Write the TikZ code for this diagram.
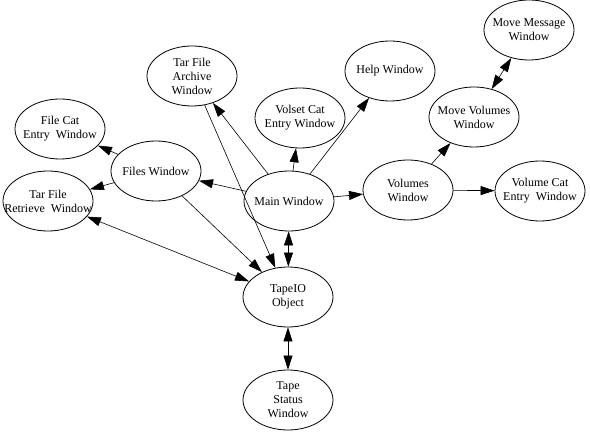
\documentclass[tikz,border=0pt]{standalone}
\usepackage{fontspec}
\setmainfont{Liberation Serif}
\usepackage{tikz}
\usetikzlibrary{shapes.geometric}
\usetikzlibrary{arrows.meta}
\tikzset{
    win/.style={draw, ellipse, line width=0.8pt, minimum width=90pt, minimum height=60pt,
        inner ysep=0pt, inner xsep=-20pt, align=center, font=\fontsize{12}{14}\selectfont},
    link/.style={line width=0.6pt, -{Triangle[length=14pt,width=9pt]}},
    both/.style={line width=0.6pt, {Triangle[length=14pt,width=9pt]}-{Triangle[length=14pt,width=9pt]}},
}

\begin{document}
\begin{tikzpicture}[x=1pt,y=1pt]
\useasboundingbox (0,0) rectangle (590,440);
\node[win] (archive) at (192,364) {Tar File\\Archive\\Window};
\node[win] (filecat) at (60,311) {File Cat\\Entry~~Window};
\node[win] (files) at (156,269) {Files Window};
\node[win] (retrieve) at (48,239) {Tar File\\Retrieve~~Window};
\node[win] (main) at (289,239) {Main Window};
\node[win] (volset) at (300,322) {Volset Cat\\Entry Window};
\node[win] (help) at (390,369) {Help Window};
\node[win] (movemsg) at (529,410) {Move Message\\Window};
\node[win] (movevol) at (474,323) {Move Volumes\\Window};
\node[win] (volumes) at (408,250) {Volumes\\Window};
\node[win] (volcat) at (540,249) {Volume Cat\\Entry~~Window};
\node[win] (tapeio) at (288,143) {TapeIO\\Object};
\node[win] (status) at (288,40) {Tape\\Status\\Window};

\draw[link] (main) -- (files);
\draw[link] (main) -- (archive);
\draw[link] (main) -- (volset);
\draw[link] (main) -- (help);
\draw[link] (main) -- (volumes);
\draw[both] (main) -- (tapeio);
\draw[link] (files) -- (filecat);
\draw[link] (files) -- (retrieve);
\draw[link] (files) -- (tapeio);
\draw[link] (archive) -- (tapeio);
\draw[both] (retrieve) -- (tapeio);
\draw[link] (volumes) -- (movevol);
\draw[link] (volumes) -- (volcat);
\draw[both] (movevol) -- (movemsg);
\draw[both] (tapeio) -- (status);
\end{tikzpicture}
\end{document}
